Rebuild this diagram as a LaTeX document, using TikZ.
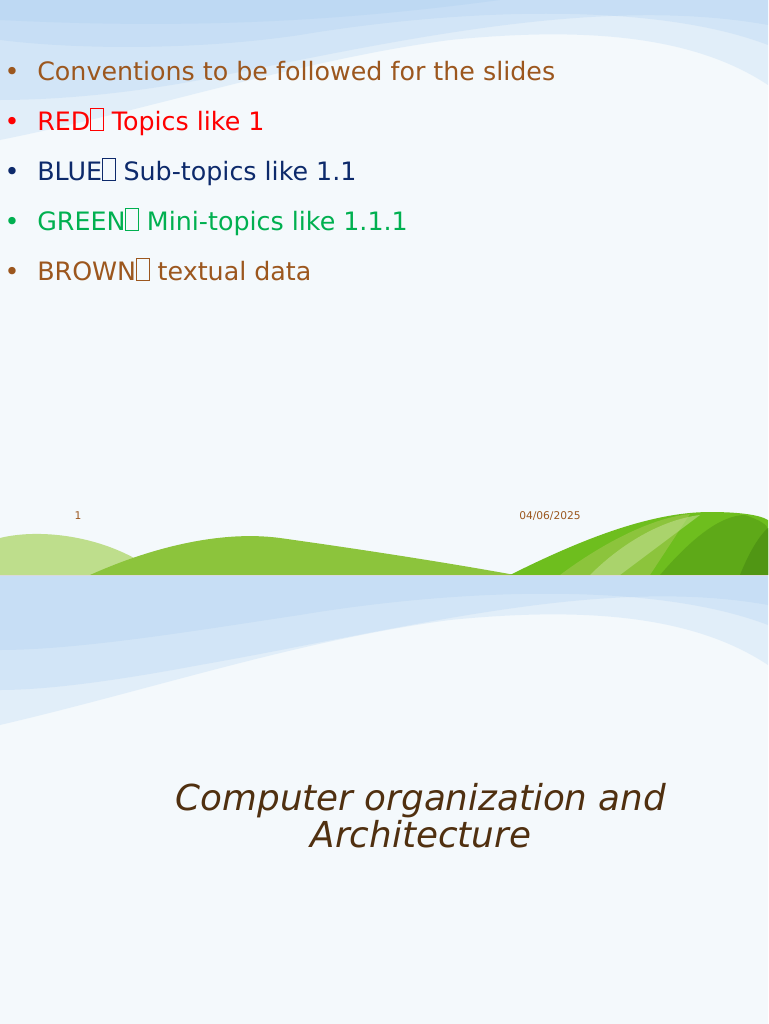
\documentclass[tikz,border=0pt]{standalone}
\usepackage{fontspec}
\setmainfont{DejaVu Sans}
\definecolor{bg}{RGB}{244,249,252}
\definecolor{brn}{RGB}{156,87,30}
\definecolor{nav}{RGB}{13,42,107}
\definecolor{grn}{RGB}{0,176,80}
\definecolor{ttl}{RGB}{80,48,16}
\definecolor{wv}{RGB}{160,200,240}
\definecolor{g1}{RGB}{190,222,140}
\definecolor{g2}{RGB}{140,196,60}
\definecolor{g3}{RGB}{110,190,30}
\definecolor{g4}{RGB}{80,150,20}
\newcommand{\tofu}{\tikz[baseline=0pt]\draw[line width=0.6pt] (0,0) rectangle (0.5em,0.85em);}
\tikzset{bl/.style={anchor=base west,inner sep=0pt,font=\fontsize{19}{22}\selectfont},
 dot/.style={anchor=base,inner sep=0pt,font=\fontsize{19}{22}\selectfont},
 foot/.style={anchor=base,text=brn,font=\fontsize{8}{9}\selectfont},
 wave/.style={fill=wv,opacity=0.22,draw=none}}
\begin{document}
\begin{tikzpicture}[x=0.75pt,y=-0.75pt]
\useasboundingbox (0,0) rectangle (768,1024);
\fill[bg] (0,0) rectangle (768,1024);
% top waves slide 1
\fill[wave] (0,0) -- (768,0) -- (768,45) .. controls (650,0) and (450,10) .. (300,35) .. controls (200,50) and (80,50) .. (0,40) -- cycle;
\fill[wave] (0,0) -- (768,0) -- (768,25) .. controls (600,-5) and (400,40) .. (200,80) .. controls (120,95) and (50,100) .. (0,100) -- cycle;
\fill[wave] (0,0) -- (768,0) -- (768,85) .. controls (700,40) and (600,25) .. (450,40) .. controls (300,60) and (150,110) .. (0,140) -- cycle;
\fill[wave] (0,0) -- (500,0) .. controls (350,20) and (200,30) .. (0,20) -- cycle;
% green hills
\fill[g1] (0,538) .. controls (40,528) and (110,535) .. (160,575) -- (0,575) -- cycle;
\fill[g2] (90,575) .. controls (150,548) and (220,530) .. (280,538) .. controls (380,552) and (460,565) .. (515,575) -- cycle;
\fill[g3] (510,575) .. controls (580,540) and (650,512) .. (710,512) .. controls (740,512) and (760,515) .. (768,520) -- (768,575) -- cycle;
\fill[g2] (560,575) .. controls (600,545) and (650,518) .. (690,514) -- (650,575) -- cycle;
\fill[g1,opacity=0.6] (590,575) .. controls (620,545) and (660,520) .. (700,515) -- (620,575) -- cycle;
\fill[g4,opacity=0.5] (660,575) .. controls (690,540) and (720,515) .. (745,515) .. controls (760,520) and (768,525) .. (768,530) -- (768,575) -- cycle;
\fill[g4] (740,575) .. controls (750,550) and (760,535) .. (768,528) -- (768,575) -- cycle;
% second slide waves
\fill[wave] (0,576) -- (768,576) -- (768,625) .. controls (650,580) and (450,590) .. (300,615) .. controls (200,630) and (80,650) .. (0,650) -- cycle;
\fill[wave] (0,576) -- (768,576) -- (768,605) .. controls (600,575) and (400,630) .. (200,665) .. controls (120,680) and (50,690) .. (0,690) -- cycle;
\fill[wave] (0,576) -- (768,576) -- (768,665) .. controls (700,620) and (600,605) .. (450,620) .. controls (300,640) and (150,690) .. (0,725) -- cycle;
\draw[black!15] (0,575.5) -- (768,575.5);
% bullets
\node[dot,text=brn] (d1) at (12,80) {•};
\node[bl,text=brn] (t1) at (37,80) {Conventions to be followed for the slides};
\node[dot,text=red] (d2) at (12,130) {•};
\node[bl,text=red] (t2) at (37,130) {RED\tofu{} Topics like 1};
\node[dot,text=nav] (d3) at (12,180) {•};
\node[bl,text=nav] (t3) at (37,180) {BLUE\tofu{} Sub-topics like 1.1};
\node[dot,text=grn] (d4) at (12,230) {•};
\node[bl,text=grn] (t4) at (37,230) {GREEN\tofu{} Mini-topics like 1.1.1};
\node[dot,text=brn] (d5) at (12,280) {•};
\node[bl,text=brn] (t5) at (37,280) {BROWN\tofu{} textual data};
\node[foot] (n1) at (78,519) {1};
\node[foot] (dt) at (550,519) {04/06/2025};
\node[align=center,text=ttl,font=\fontsize{26.8}{28}\itshape\selectfont] (title) at (421,816) {Computer organization and\\Architecture};
\end{tikzpicture}
\end{document}
